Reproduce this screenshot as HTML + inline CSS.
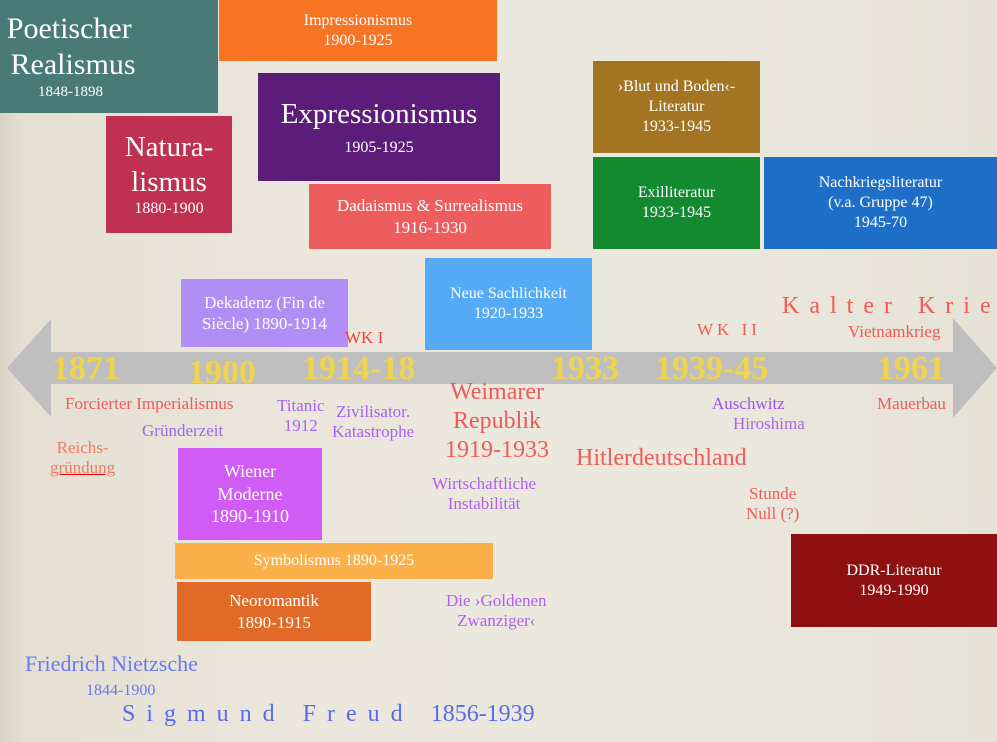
<!DOCTYPE html>
<html><head><meta charset="utf-8"><style>
body{margin:0}
#c{position:relative;width:997px;height:742px;overflow:hidden;background:linear-gradient(90deg,#d8d2c4 0,#e4dfd2 20px,#ebe7dc 300px,#ebe8de 700px,#e6e2d6 997px);font-family:"Liberation Serif",serif}
.b{position:absolute;color:#fff;text-align:center;display:flex;flex-direction:column;justify-content:center;align-items:center;line-height:1.25;font-size:16px}
.t{position:absolute;white-space:nowrap;line-height:1.2}
.y{position:absolute;color:#f0d44a;font-weight:bold;font-size:34px;top:350px;white-space:nowrap}
</style></head><body><div id="c">
<div style="position:absolute;left:50px;top:352px;width:905px;height:32px;background:#bfbfbf"></div>
<div style="position:absolute;left:7px;top:319px;width:0;height:0;border-top:49px solid transparent;border-bottom:49px solid transparent;border-right:44px solid #bfbfbf"></div>
<div style="position:absolute;left:953px;top:318px;width:0;height:0;border-top:50px solid transparent;border-bottom:50px solid transparent;border-left:44px solid #bfbfbf"></div>

<div class="b" style="left:0;top:0;width:218px;height:113px;background:#4a7a78;align-items:flex-start"><span style="font-size:30px;line-height:1.2;margin-left:3px">Poetischer<br>&nbsp;Realismus</span><span style="font-size:15px;margin-left:38px">1848-1898</span></div>
<div class="b" style="left:219px;top:0;width:278px;height:61px;background:#f77424">Impressionismus<br>1900-1925</div>
<div class="b" style="left:106px;top:116px;width:126px;height:117px;background:#c03050"><span style="font-size:29px;line-height:1.2">Natura-<br>lismus</span><span>1880-1900</span></div>
<div class="b" style="left:258px;top:73px;width:242px;height:108px;background:#5c1d7a"><span style="font-size:29px">Expressionismus</span><span style="margin-top:6px">1905-1925</span></div>
<div class="b" style="left:309px;top:184px;width:242px;height:65px;background:#ee5d5d;font-size:17px">Dadaismus &amp; Surrealismus<br>1916-1930</div>
<div class="b" style="left:593px;top:61px;width:167px;height:92px;background:#a37523">›Blut und Boden‹-<br>Literatur<br>1933-1945</div>
<div class="b" style="left:593px;top:157px;width:167px;height:92px;background:#148a30">Exilliteratur<br>1933-1945</div>
<div class="b" style="left:764px;top:157px;width:233px;height:92px;background:#1e6fc8">Nachkriegsliteratur<br>(v.a. Gruppe 47)<br>1945-70</div>
<div class="b" style="left:181px;top:279px;width:167px;height:68px;background:#b08ef5;font-size:17px">Dekadenz (Fin de<br>Siècle) 1890-1914</div>
<div class="b" style="left:425px;top:258px;width:167px;height:92px;background:#55aaf5">Neue Sachlichkeit<br>1920-1933</div>
<div class="b" style="left:178px;top:448px;width:144px;height:92px;background:#d05cf5;font-size:18px">Wiener<br>Moderne<br>1890-1910</div>
<div class="b" style="left:175px;top:543px;width:318px;height:36px;background:#fbb04a">Symbolismus 1890-1925</div>
<div class="b" style="left:177px;top:582px;width:194px;height:59px;background:#e06a26;font-size:17px">Neoromantik<br>1890-1915</div>
<div class="b" style="left:791px;top:534px;width:206px;height:93px;background:#8e1010">DDR-Literatur<br>1949-1990</div>

<div class="y" style="left:52px">1871</div>
<div class="y" style="left:188px;top:354px">1900</div>
<div class="y" style="left:302px">1914-18</div>
<div class="y" style="left:551px">1933</div>
<div class="y" style="left:655px">1939-45</div>
<div class="y" style="left:877px">1961</div>

<div class="t" style="left:345px;top:328px;color:#f04040;font-size:17px">WK I</div>
<div class="t" style="left:697px;top:320px;color:#f05a50;font-size:17px;letter-spacing:4px">WK II</div>
<div class="t" style="left:782px;top:292px;color:#f05a50;font-size:24px;letter-spacing:10px">Kalter Krieg</div>
<div class="t" style="left:848px;top:322px;color:#f05a50;font-size:17px">Vietnamkrieg</div>
<div class="t" style="left:65px;top:394px;color:#f05a60;font-size:17px">Forcierter Imperialismus</div>
<div class="t" style="left:142px;top:421px;color:#9a6af0;font-size:17px">Gründerzeit</div>
<div class="t" style="left:50px;top:438px;color:#f57a60;font-size:17px;text-align:center">Reichs-<br><u style="text-decoration-color:#e00">gründung</u></div>
<div class="t" style="left:277px;top:396px;color:#a860f5;font-size:17px;text-align:center">Titanic<br>1912</div>
<div class="t" style="left:332px;top:402px;color:#a860f5;font-size:17px;text-align:center">Zivilisator.<br>Katastrophe</div>
<div class="t" style="left:445px;top:378px;color:#f05a5a;font-size:24px;text-align:center">Weimarer<br>Republik<br>1919-1933</div>
<div class="t" style="left:432px;top:474px;color:#b060f0;font-size:17px;text-align:center">Wirtschaftliche<br>Instabilität</div>
<div class="t" style="left:576px;top:444px;color:#f05a5a;font-size:24px">Hitlerdeutschland</div>
<div class="t" style="left:712px;top:394px;color:#a050f0;font-size:17px">Auschwitz</div>
<div class="t" style="left:733px;top:414px;color:#b060f0;font-size:17px">Hiroshima</div>
<div class="t" style="left:877px;top:394px;color:#f05a5a;font-size:17px">Mauerbau</div>
<div class="t" style="left:746px;top:484px;color:#f05a5a;font-size:17px;text-align:center">Stunde<br>Null (?)</div>
<div class="t" style="left:446px;top:591px;color:#b060f0;font-size:17px;text-align:center">Die ›Goldenen<br>Zwanziger‹</div>
<div class="t" style="left:25px;top:651px;color:#6a7af0;font-size:22px">Friedrich Nietzsche</div>
<div class="t" style="left:86px;top:681px;color:#6a7af0;font-size:16px">1844-1900</div>
<div class="t" style="left:122px;top:700px;color:#5a6af0;font-size:24px;letter-spacing:11px">Sigmund Freud <span style="letter-spacing:0">1856-1939</span></div>
</div></body></html>
